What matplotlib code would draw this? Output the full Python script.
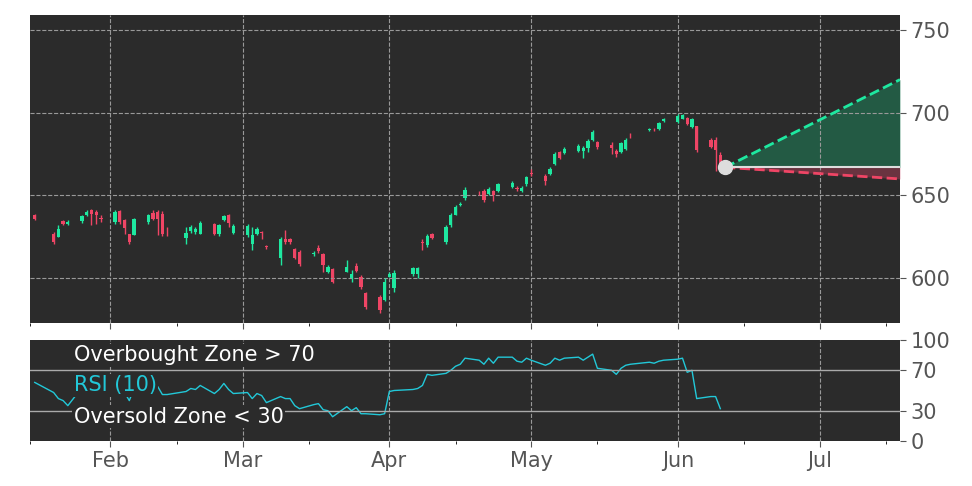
import matplotlib
matplotlib.use("Agg")
import matplotlib.pyplot as plt
import matplotlib.dates as mdates
import pandas as pd
import numpy as np

dates = ["2026-01-16","2026-01-20","2026-01-21","2026-01-22","2026-01-23","2026-01-26","2026-01-27","2026-01-28","2026-01-29","2026-01-30",
 "2026-02-02","2026-02-03","2026-02-04","2026-02-05","2026-02-06","2026-02-09","2026-02-10","2026-02-11","2026-02-12","2026-02-13",
 "2026-02-17","2026-02-18","2026-02-19","2026-02-20","2026-02-23","2026-02-24","2026-02-25","2026-02-26","2026-02-27",
 "2026-03-02","2026-03-03","2026-03-04","2026-03-05","2026-03-06","2026-03-09","2026-03-10","2026-03-11","2026-03-12","2026-03-13",
 "2026-03-16","2026-03-17","2026-03-18","2026-03-19","2026-03-20","2026-03-23","2026-03-24","2026-03-25","2026-03-26","2026-03-27",
 "2026-03-30","2026-03-31","2026-04-01","2026-04-02","2026-04-06","2026-04-07","2026-04-08","2026-04-09","2026-04-10",
 "2026-04-13","2026-04-14","2026-04-15","2026-04-16","2026-04-17","2026-04-20","2026-04-21","2026-04-22","2026-04-23","2026-04-24",
 "2026-04-27","2026-04-28","2026-04-29","2026-04-30","2026-05-01","2026-05-04","2026-05-05","2026-05-06","2026-05-07","2026-05-08",
 "2026-05-11","2026-05-12","2026-05-13","2026-05-14","2026-05-15","2026-05-18","2026-05-19","2026-05-20","2026-05-21","2026-05-22",
 "2026-05-26","2026-05-27","2026-05-28","2026-05-29","2026-06-01","2026-06-02","2026-06-03","2026-06-04","2026-06-05",
 "2026-06-08","2026-06-09","2026-06-10"]
opens = [638,627,625,634.6,632.6,634.4,638.4,641,640,636.3,
 634,640.6,635,626.6,626.4,634,639.6,640,639,627.4,
 624.6,628.6,628,627,632.6,626.6,635,638,627.6,
 626,620.6,626.6,627.6,619.4,612.4,623.6,623.5,617.4,616,
 614.4,618,614.6,604,605.4,604,600,607.4,601,591,
 588.6,587,601,594,602.6,602.6,621.6,620,626.6,
 621.8,631.9,638.5,644,648.6,651.6,653,651,652.6,652.6,
 655,654.2,653,656.7,663.2,662,663,669,676,675.6,
 676.8,677,678.6,683.7,682.3,680.6,676.8,676.2,678.2,686.5,
 689.8,690.2,690,695,694.4,696.4,697,691.3,691.7,
 683.7,683.7,674.2]
closes = [636,622,630,633,634,637.6,640,639,638.4,636,
 640,634,630.6,622,635.6,638.4,636,636,627,627.2,
 627.6,631,629.6,633.6,627,632,637.6,633.4,631.4,
 631.4,626,630,627.4,618.6,624,622,622,612.4,608.6,
 615.4,616.4,608,607,598,607,602.6,604.6,594.6,582.6,
 580.6,598,602.4,603,606,606,621.4,625.4,624.4,
 630.8,638.5,643.3,645,653.4,651.4,647,654,650.4,656.7,
 657.7,654,654.6,661,663,659,666,674.8,672.8,678,
 679.6,678.6,682.7,688.3,679.2,678.8,674.8,681.9,683.3,686.3,
 690.2,690,694,696,697.8,698.8,693.3,696.4,677.6,
 679.2,677.6,667.1]
highs = [639,628,632,635.5,635,638.5,641,642,641,638,
 641,641.5,636,627,636.5,639,641,641,640.5,631,
 631,632,631,634.5,633.5,633,638.5,639,632.5,
 632.5,631,631,628.5,620,625,629,624.5,618,617,
 616.5,620,615.5,608,606,611,605,609,602,592,
 590,600,604,605,607,607,624,626.5,627.5,
 632,639.5,644.5,646,655,652.5,654,655,653.5,657.5,
 658.5,655.5,656,661.5,666,663,667,676,677,679,
 681,680,684,689.5,683,682.5,677.8,682.5,684.5,687.5,
 691,691,694.5,696.5,699,699.5,697.5,697,692,
 685,685.5,676.5]
lows = [635,621,625,632,632,633.5,637.5,632,633,634,
 633,633,627,621,626,633,635,626,625.5,625.5,
 621,627.5,627,626.5,626,625.5,634.5,631,626.5,
 625,617,626,624,617.5,608,620.5,621,611.5,607.5,
 613.5,615.5,603.5,603,597,603.5,597.5,604,593.5,581.5,
 579,586,600.5,592,601.5,600,617,619,623.5,
 621,631,638,643.5,647.5,650.5,646,650.5,646.5,652,
 654.5,653,652,656,662,656.5,662.5,668.5,672,675,
 676,672.5,676,683,678,675,673.5,675.5,677.5,685,
 689,689,689.5,694.5,693.5,696,692.5,690.5,676.5,
 678.5,665,666]
rsi = [58,48,42,40,35,53,55,54,52,50,
 56,52,48,40,52,56,54,54,46,46,
 49,52,51,55,47,51,57,51,47,
 48,42,47,45,38,44,42,42,35,32,
 36,37,31,30,24,34,30,33,27,27,
 26,27,49,50,51,52,55,66,65,
 67,70,74,76,82,80,76,82,77,83,
 83,79,78,82,80,75,77,82,80,82,
 83,80,83,86,72,70,66,72,75,76,
 78,77,79,80,81,82,68,70,42,
 44,44,32]

last_price = 667
forecast_end = "2026-07-18"
forecast_high = 720
forecast_low = 660

d = pd.to_datetime(dates)
x = mdates.date2num(d)

BG = "#2b2b2b"
GREEN = "#1ee8a0"
RED = "#ef4565"
fig = plt.figure(figsize=(9.72, 4.86), dpi=100)
W, H = 972, 486
ax = fig.add_axes([30/W, 1-323/H, 870/W, 308/H])
ax2 = fig.add_axes([30/W, 1-441/H, 870/W, 101/H], sharex=ax)
for a in (ax, ax2):
    a.set_facecolor(BG)
    for s in a.spines.values():
        s.set_visible(False)
    a.yaxis.tick_right()
    a.tick_params(colors="#555555", labelsize=15, length=4)

for xi, o, c, h, l in zip(x, opens, closes, highs, lows):
    col = GREEN if c >= o else RED
    ax.vlines(xi, l, h, color=col, lw=1)
    ax.bar(xi, max(abs(c-o), 0.4), bottom=min(o, c), width=0.7, color=col)

x0 = mdates.date2num(pd.Timestamp("2026-06-11"))
x1 = mdates.date2num(pd.Timestamp(forecast_end))
ax.fill_between([x0, x1], [last_price, last_price], [last_price, forecast_high], color="#1e7a55", alpha=0.6, lw=0)
ax.fill_between([x0, x1], [last_price, last_price], [last_price, forecast_low], color="#c94060", alpha=0.4, lw=0)
ax.plot([x0, x1], [last_price, forecast_high], "--", color=GREEN, lw=2)
ax.plot([x0, x1], [last_price, forecast_low], "--", color=RED, lw=2)
ax.plot([x0, x1], [last_price, last_price], "-", color="#dddddd", lw=1.5)
ax.plot([x0], [last_price], "o", color="#dddddd", ms=10, zorder=5)

ax.set_ylim(573, 759)
ax.set_yticks([600, 650, 700, 750])
ax.set_xlim(mdates.date2num(pd.Timestamp("2026-01-15")), x1)
ax.grid(True, ls="--", color="#999999", lw=0.8)
ax.tick_params(labelbottom=False)

ax2.plot(x, rsi, color="#22c8d8", lw=1)
ax2.axhline(70, color="#aaaaaa", lw=1)
ax2.axhline(30, color="#aaaaaa", lw=1)
ax2.set_ylim(0, 100)
ax2.set_yticks([0, 30, 70, 100])
ax2.grid(True, axis="x", ls="--", color="#999999", lw=0.8)
ax2.xaxis.set_major_locator(mdates.MonthLocator())
ax2.xaxis.set_major_formatter(mdates.DateFormatter("%b"))
ax2.xaxis.set_minor_locator(mdates.MonthLocator(bymonthday=15))
ax2.text(0.05, 0.85, "Overbought Zone > 70", transform=ax2.transAxes, color="white", fontsize=15, va="center",
         bbox=dict(fc=BG, ec="none", pad=1))
ax2.text(0.05, 0.55, "RSI (10)", transform=ax2.transAxes, color="#22c8d8", fontsize=15, va="center",
         bbox=dict(fc=BG, ec="none", pad=1))
ax2.text(0.05, 0.24, "Oversold Zone < 30", transform=ax2.transAxes, color="white", fontsize=15, va="center",
         bbox=dict(fc=BG, ec="none", pad=1))

fig.savefig("out.png", dpi=100, facecolor="white")
